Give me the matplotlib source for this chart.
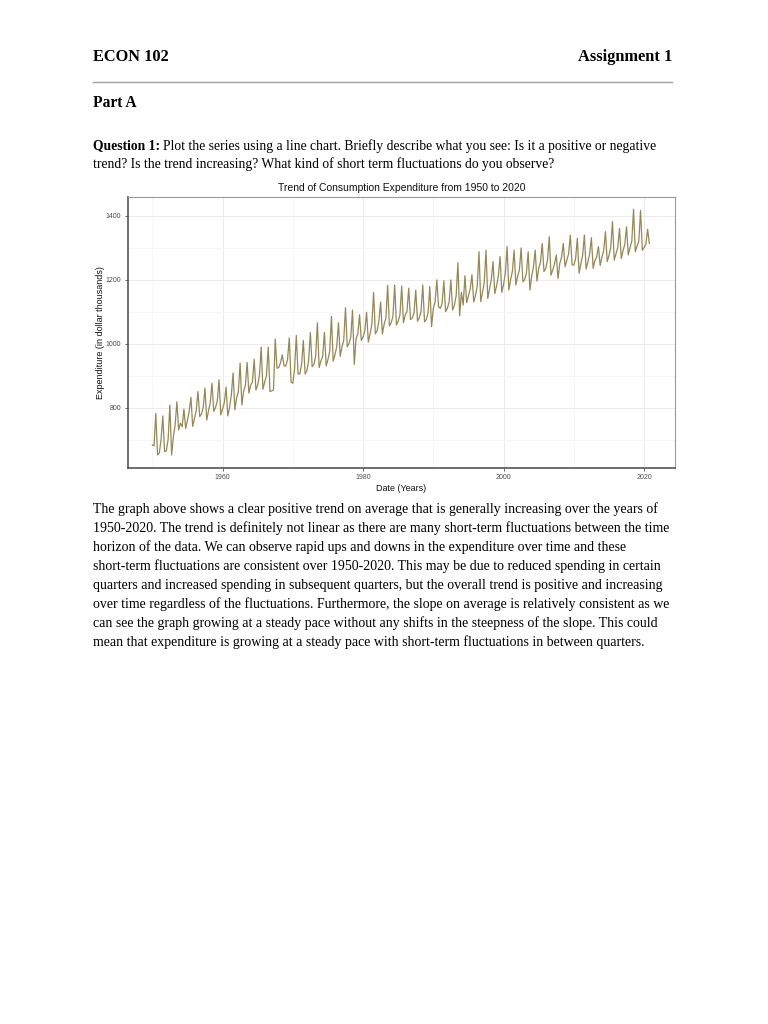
import numpy as np
import matplotlib
matplotlib.use("Agg")
import matplotlib.pyplot as plt

# quarterly consumption expenditure (Q1..Q4 per year)
exp_1950s = [
    683, 680, 782, 652,   # 1950
    658, 700, 774, 662,   # 1951
    665, 700, 808, 652,   # 1952
    709, 745, 818, 730,   # 1953
    751, 740, 795, 735,   # 1954
    760, 788, 832, 741,   # 1955
    765, 790, 850, 772,   # 1956
    780, 800, 861, 761,   # 1957
    790, 815, 876, 788,   # 1958
    800, 820, 887, 777,   # 1959
]
exp_1960s = [
    795, 815, 864, 774,   # 1960
    800, 840, 908, 793,   # 1961
    830, 850, 939, 808,   # 1962
    850, 870, 941, 845,   # 1963
    870, 880, 951, 855,   # 1964
    870, 900, 989, 857,   # 1965
    880, 900, 989, 850,   # 1966
    852, 855, 1014, 923,  # 1967
    925, 940, 965, 930,   # 1968
    930, 950, 1018, 880,  # 1969
]
exp_1970s = [
    876, 920, 1025, 905,  # 1970
    905, 935, 1010, 905,  # 1971
    915, 945, 1035, 928,  # 1972
    935, 960, 1065, 925,  # 1973
    945, 960, 1035, 930,  # 1974
    950, 975, 1085, 945,  # 1975
    965, 990, 1065, 960,  # 1976
    990, 1010, 1112, 990,  # 1977
    1000, 1020, 1105, 935,  # 1978
    1015, 1030, 1090, 1010,  # 1979
]
exp_1980s = [
    1020, 1040, 1098, 1005,  # 1980
    1030, 1060, 1160, 1030,  # 1981
    1040, 1070, 1130, 1030,  # 1982
    1060, 1080, 1182, 1055,  # 1983
    1065, 1085, 1183, 1058,  # 1984
    1070, 1090, 1180, 1065,  # 1985
    1090, 1100, 1173, 1075,  # 1986
    1080, 1095, 1167, 1070,  # 1987
    1080, 1100, 1183, 1068,  # 1988
    1075, 1095, 1178, 1053,  # 1989
]
exp_1990s = [
    1110, 1130, 1199, 1115,  # 1990
    1110, 1125, 1196, 1100,  # 1991
    1110, 1130, 1199, 1105,  # 1992
    1120, 1150, 1253, 1087,  # 1993
    1160, 1120, 1212, 1128,  # 1994
    1150, 1170, 1215, 1130,  # 1995
    1150, 1180, 1287, 1131,  # 1996
    1160, 1190, 1292, 1141,  # 1997
    1170, 1200, 1256, 1156,  # 1998
    1180, 1210, 1272, 1160,  # 1999
]
exp_2000s = [
    1185, 1220, 1303, 1167,  # 2000
    1200, 1225, 1292, 1183,  # 2001
    1210, 1230, 1299, 1193,  # 2002
    1200, 1220, 1287, 1167,  # 2003
    1210, 1240, 1292, 1195,  # 2004
    1235, 1255, 1313, 1225,  # 2005
    1235, 1260, 1334, 1214,  # 2006
    1230, 1250, 1277, 1203,  # 2007
    1250, 1270, 1313, 1240,  # 2008
    1260, 1280, 1339, 1246,  # 2009
]
exp_2010s = [
    1245, 1265, 1329, 1220,  # 2010
    1250, 1275, 1339, 1233,  # 2011
    1255, 1280, 1331, 1235,  # 2012
    1260, 1270, 1303, 1244,  # 2013
    1270, 1290, 1350, 1256,  # 2014
    1275, 1300, 1381, 1261,  # 2015
    1280, 1300, 1360, 1266,  # 2016
    1290, 1310, 1365, 1277,  # 2017
    1300, 1320, 1420, 1287,  # 2018
    1305, 1320, 1416, 1292,  # 2019
]
exp_2020 = [1300, 1310, 1357, 1313]

first_year = 1950
x_ticks = [1960, 1980, 2000, 2020]
y_ticks = [800, 1000, 1200, 1400]

header_left = "ECON 102"
header_right = "Assignment 1"
section = "Part A"
question_label = "Question 1:"
question_lines = [
    "Plot the series using a line chart. Briefly describe what you see: Is it a positive or negative",
    "trend? Is the trend increasing? What kind of short term fluctuations do you observe?",
]
answer_lines = [
    "The graph above shows a clear positive trend on average that is generally increasing over the years of",
    "1950-2020. The trend is definitely not linear as there are many short-term fluctuations between the time",
    "horizon of the data. We can observe rapid ups and downs in the expenditure over time and these",
    "short-term fluctuations are consistent over 1950-2020. This may be due to reduced spending in certain",
    "quarters and increased spending in subsequent quarters, but the overall trend is positive and increasing",
    "over time regardless of the fluctuations. Furthermore, the slope on average is relatively consistent as we",
    "can see the graph growing at a steady pace without any shifts in the steepness of the slope. This could",
    "mean that expenditure is growing at a steady pace with short-term fluctuations in between quarters.",
]

W, H = 768, 1024
SERIF = "Liberation Serif"
SANS = "Liberation Sans"


def fx(x):
    return x / W


def fy(y):
    return 1 - y / H


fig = plt.figure(figsize=(W / 100, H / 100), dpi=100)
fig.patch.set_facecolor("white")

# --- page header ---
fig.text(fx(93), fy(57), header_left, family=SERIF, fontweight="bold",
         fontsize=11.8, va="center", ha="left")
fig.text(fx(672), fy(57), header_right, family=SERIF, fontweight="bold",
         fontsize=11.8, va="center", ha="right")
fig.add_artist(plt.Line2D([fx(93), fx(672)], [fy(82), fy(82)],
                          color="#a0a0a0", lw=1.0))
fig.text(fx(93), fy(103), section, family=SERIF, fontweight="bold",
         fontsize=11.2, va="center", ha="left")

# --- question ---
renderer = fig.canvas.get_renderer()
q_size = 9.85
body_size = 10.0
q = fig.text(fx(93), fy(146), question_label, family=SERIF, fontweight="bold",
             fontsize=q_size, va="center", ha="left")
qb = q.get_window_extent(renderer)
fig.text(qb.x1 / W + 3.0 / W, fy(146), question_lines[0], family=SERIF,
         fontsize=q_size, va="center", ha="left")
fig.text(fx(93), fy(164), question_lines[1], family=SERIF,
         fontsize=q_size, va="center", ha="left")

# --- answer paragraph ---
for i, line in enumerate(answer_lines):
    fig.text(fx(93), fy(509 + 19.0 * i), line, family=SERIF,
             fontsize=body_size, va="center", ha="left")

# --- chart ---
expenditure = np.array(exp_1950s + exp_1960s + exp_1970s + exp_1980s
                       + exp_1990s + exp_2000s + exp_2010s + exp_2020, dtype=float)
dates = first_year + np.arange(len(expenditure)) * 0.25

ax_left, ax_right, ax_top, ax_bottom = 127.7, 675.0, 196.7, 467.7
ax = fig.add_axes([fx(ax_left), fy(ax_bottom),
                   (ax_right - ax_left) / W, (ax_bottom - ax_top) / H])
ax.plot(dates, expenditure, color="#958857", lw=0.9)

ax.set_xlim(1946.5, 2024.4)
ax.set_ylim(612, 1459)
ax.set_xticks(x_ticks)
ax.set_yticks(y_ticks)
ax.set_xticks([1950, 1970, 1990, 2010], minor=True)
ax.set_yticks([700, 900, 1100, 1300], minor=True)
ax.grid(True, which="major", color="#ebebeb", lw=0.7)
ax.grid(True, which="minor", color="#f4f4f4", lw=0.5)
ax.set_axisbelow(True)
ax.tick_params(which="major", labelsize=5, colors="#4d4d4d", length=2.5, width=0.6, pad=2)
ax.tick_params(which="minor", length=0)

for side in ["top", "right"]:
    ax.spines[side].set_color("#9a9a9a")
    ax.spines[side].set_linewidth(0.8)
for side in ["left", "bottom"]:
    ax.spines[side].set_color("#555555")
    ax.spines[side].set_linewidth(1.2)

ax.set_title("Trend of Consumption Expenditure from 1950 to 2020", family=SANS,
             fontsize=7.5, color="#111111", y=1.0, pad=4.0)
ax.set_xlabel("Date (Years)", family=SANS, fontsize=6.5, color="#111111")
ax.set_ylabel("Expenditure (in dollar thousands)", family=SANS, fontsize=6.5, color="#111111")
ax.xaxis.set_label_coords(0.5, -0.06)
ax.yaxis.set_label_coords(-0.042, 0.5)
for lab in ax.get_xticklabels() + ax.get_yticklabels():
    lab.set_family(SANS)

fig.savefig("out.png", dpi=100)
